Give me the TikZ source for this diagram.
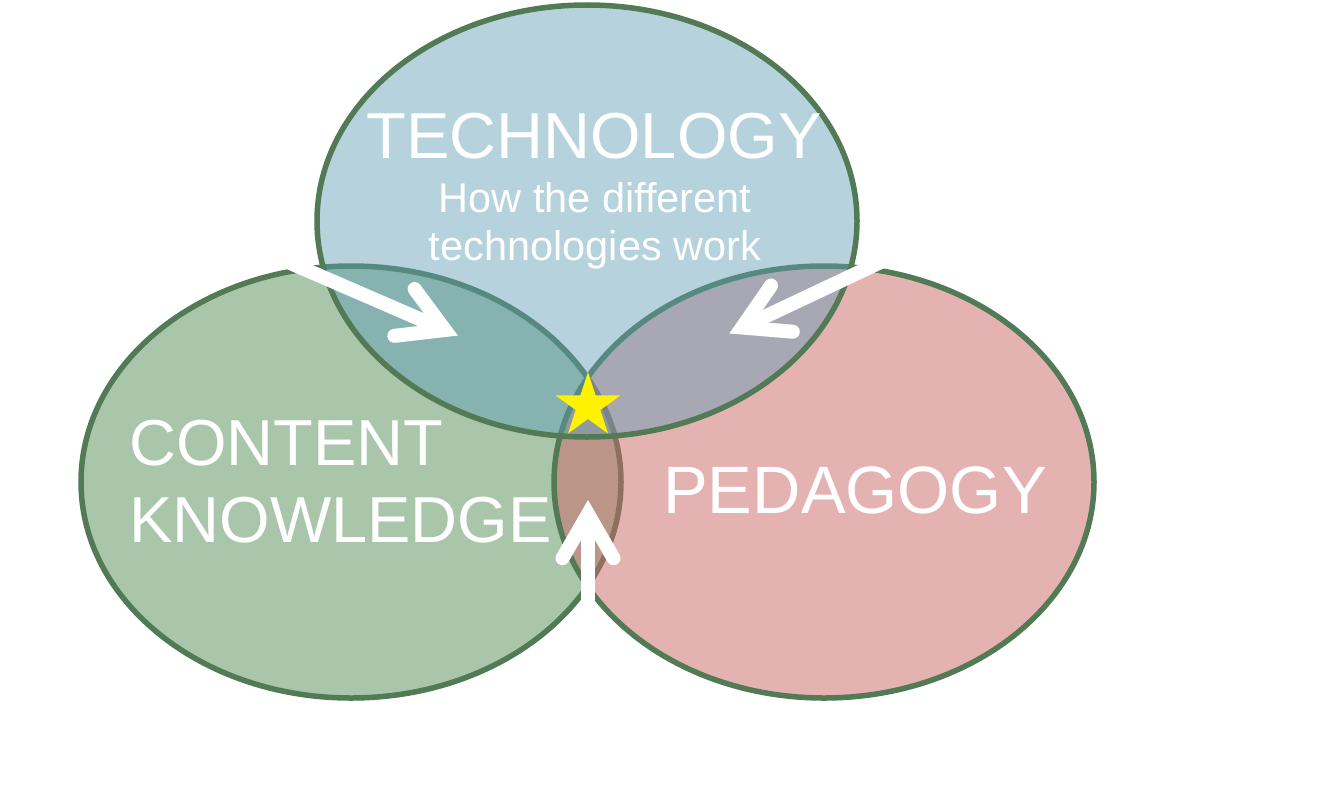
\documentclass[tikz,border=0pt]{standalone}
\usepackage{fontspec}
\setmainfont{Liberation Sans}
\usetikzlibrary{shapes.geometric,calc}
\definecolor{edgec}{HTML}{517A55}
\definecolor{contc}{HTML}{A9C6AA}
\definecolor{techc}{RGB}{94,157,183}
\definecolor{pedc}{RGB}{205,103,103}
\begin{document}
\begin{tikzpicture}[x=1pt,y=-1pt,
 setshape/.style={ellipse, draw=edgec, line width=5.5pt, minimum width=540pt, minimum height=432pt, inner sep=0pt, outer sep=0pt},
 shaft/.style={draw=white, line width=14pt, line cap=butt},
 headline/.style={draw=white, line width=14pt, line cap=round, line join=miter, miter limit=10},
 bigtext/.style={text=white, font=\fontsize{65}{78}\selectfont, inner sep=0pt},
 smalltext/.style={text=white, font=\fontsize{41.5}{48}\selectfont, inner sep=0pt}]
\path[use as bounding box, fill=white] (0,0) rectangle (1321,808);
% sets
\node[setshape, fill=contc] (content) at (351,482) {};
\node[setshape, fill=pedc, fill opacity=0.5] (ped) at (824,482) {};
\node[setshape, fill=techc, fill opacity=0.46] (tech) at (587,221) {};
% arrows
\coordinate (t1) at (288,262); \coordinate (v1) at (445,330);
\coordinate (t2) at (885,260); \coordinate (v2) at (742,327.5);
\coordinate (t3) at (588,625); \coordinate (v3) at (588,514);
\foreach \t/\v in {t1/v1,t2/v2,t3/v3}{
  \draw[shaft] (\t) -- (\v);
  \draw[headline] ($(\v)!51pt!30:(\t)$) -- (\v) -- ($(\v)!51pt!-30:(\t)$);
}
% star
\node[star, star points=5, star point ratio=2.618, fill=yellow, minimum size=68pt, inner sep=0pt] (star) at (588,406) {};
% texts
\node[bigtext, anchor=base] (ttl) at (594,158) {TECHNOLOGY};
\node[smalltext, anchor=base] (s1) at (595,212) {How the different};
\node[smalltext, anchor=base] (s2) at (595,260) {technologies work};
\node[bigtext, anchor=base west] (c1) at (129,465) {CONTENT};
\node[bigtext, anchor=base west] (c2) at (129,542) {KNOWLEDGE};
\node[bigtext, anchor=base, font=\fontsize{67}{78}\selectfont] (p1) at (855,513) {PEDAGOGY};
\end{tikzpicture}
\end{document}
